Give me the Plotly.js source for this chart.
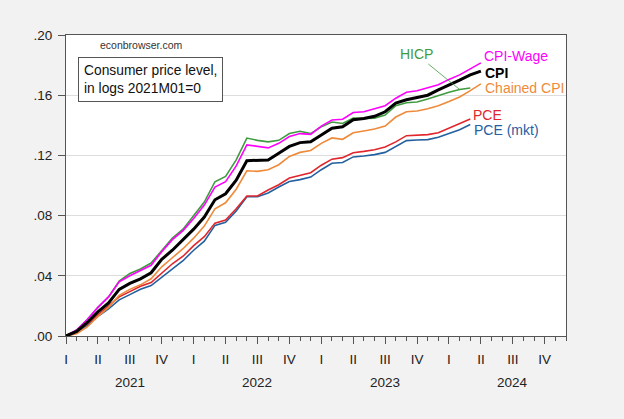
<!DOCTYPE html>
<html>
<head>
<meta charset="utf-8">
<script src="https://cdn.plot.ly/plotly-3.0.1.min.js"></script>
<style>
  html, body { margin: 0; padding: 0; background: #f2f2f2; }
  #chart { width: 624px; height: 419px; }
</style>
</head>
<body>
<div id="chart"></div>
<script>
// Monthly observations, 2021M01 .. 2024M04
const months = [
  "2021M01","2021M02","2021M03","2021M04","2021M05","2021M06","2021M07","2021M08","2021M09","2021M10","2021M11","2021M12",
  "2022M01","2022M02","2022M03","2022M04","2022M05","2022M06","2022M07","2022M08","2022M09","2022M10","2022M11","2022M12",
  "2023M01","2023M02","2023M03","2023M04","2023M05","2023M06","2023M07","2023M08","2023M09","2023M10","2023M11","2023M12",
  "2024M01","2024M02","2024M03","2024M04"
];

// Log price levels relative to 2021M01
const cpi = [0, 0.003, 0.009, 0.016, 0.022, 0.031, 0.035, 0.038, 0.042, 0.051, 0.057, 0.064,
  0.071, 0.079, 0.0905, 0.0945, 0.1035, 0.1165, 0.1165, 0.117, 0.1215, 0.126, 0.1285, 0.129,
  0.1335, 0.138, 0.139, 0.1437, 0.1445, 0.146, 0.149, 0.1548, 0.157, 0.1585, 0.160, 0.1635,
  0.1665, 0.170, 0.1735, 0.176];

const cpiWage = [0, 0.004, 0.011, 0.019, 0.026, 0.036, 0.040, 0.0435, 0.047, 0.056, 0.064, 0.070,
  0.078, 0.087, 0.099, 0.1025, 0.113, 0.127, 0.1262, 0.125, 0.128, 0.1325, 0.1345, 0.134,
  0.1395, 0.1435, 0.144, 0.1485, 0.149, 0.151, 0.153, 0.158, 0.162, 0.163, 0.165, 0.167,
  0.1705, 0.1735, 0.1775, 0.1815];

const hicp = [0, 0.004, 0.011, 0.019, 0.026, 0.0365, 0.0415, 0.0445, 0.0485, 0.057, 0.065, 0.071,
  0.080, 0.089, 0.1025, 0.106, 0.117, 0.1315, 0.130, 0.129, 0.130, 0.1345, 0.136, 0.1345,
  0.139, 0.1422, 0.1412, 0.1448, 0.1445, 0.1448, 0.1468, 0.153, 0.155, 0.1555, 0.1575, 0.160,
  0.162, 0.1638, 0.1648];

const chainedCpi = [0, 0.0015, 0.006, 0.013, 0.019, 0.027, 0.031, 0.034, 0.038, 0.046, 0.052, 0.058,
  0.065, 0.073, 0.0845, 0.0885, 0.0975, 0.1098, 0.1094, 0.1105, 0.1138, 0.1193, 0.122, 0.1233,
  0.128, 0.1316, 0.1307, 0.135, 0.1362, 0.1375, 0.1395, 0.1455, 0.149, 0.1495, 0.151, 0.153,
  0.1558, 0.1588, 0.163, 0.1675];

const pce = [0, 0.003, 0.008, 0.014, 0.020, 0.026, 0.0295, 0.033, 0.0355, 0.042, 0.048, 0.053,
  0.060, 0.066, 0.075, 0.077, 0.0845, 0.093, 0.093, 0.097, 0.1005, 0.105, 0.1065, 0.1085,
  0.1135, 0.1175, 0.1185, 0.1218, 0.1227, 0.1238, 0.1256, 0.129, 0.1331, 0.1335, 0.1338, 0.135,
  0.138, 0.1408, 0.1442];

const pceMkt = [0, 0.0025, 0.007, 0.013, 0.018, 0.024, 0.0275, 0.031, 0.0335, 0.039, 0.045, 0.050,
  0.057, 0.063, 0.0735, 0.0755, 0.083, 0.0925, 0.0925, 0.095, 0.099, 0.1027, 0.1039, 0.1056,
  0.1105, 0.1148, 0.1153, 0.119, 0.1196, 0.1205, 0.122, 0.126, 0.1298, 0.1302, 0.1305, 0.132,
  0.1345, 0.137, 0.1405];

// Axis labels
const years = ["2021", "2022", "2023", "2024"];
const quarterLabels = ["I", "II", "III", "IV"];
const yTickVals = [0, 0.04, 0.08, 0.12, 0.16, 0.20];
const yTickText = [".00", ".04", ".08", ".12", ".16", ".20"];

const FONT = "Liberation Sans, Arial, Helvetica, sans-serif";
const colors = {
  cpi: "#000000",
  cpiWage: "#ff00ff",
  hicp: "#3f9b3f",
  chained: "#ee8a3a",
  pce: "#e0262c",
  pceMkt: "#24609f"
};

const idx = arr => arr.map((_, i) => i);

function line(y, color, width) {
  return { x: idx(y), y: y, type: "scatter", mode: "lines",
           line: { color: color, width: width }, hoverinfo: "skip" };
}

const traces = [
  line(pceMkt, colors.pceMkt, 1.6),
  line(pce, colors.pce, 1.6),
  line(chainedCpi, colors.chained, 1.6),
  line(hicp, colors.hicp, 1.6),
  line(cpiWage, colors.cpiWage, 1.6),
  line(cpi, colors.cpi, 3)
];

// Quarter ticks and year captions along the time axis
const qTickVals = [], qTickText = [];
years.forEach((yr, yi) => {
  quarterLabels.forEach((q, qi) => {
    qTickVals.push(yi * 12 + qi * 3);
    qTickText.push(q);
  });
});

const annotations = [];
years.forEach((yr, yi) => {
  annotations.push({
    text: yr, xref: "x", yref: "paper", x: yi * 12 + 6, y: -0.153,
    xanchor: "center", yanchor: "middle", showarrow: false,
    font: { family: FONT, size: 13.5, color: "#222" }
  });
});

annotations.push({
  text: "econbrowser.com", xref: "paper", yref: "paper", x: 0.1514, y: 0.967,
  xanchor: "center", yanchor: "middle", showarrow: false,
  font: { family: FONT, size: 10.5, color: "#333" }
});

annotations.push({
  text: "Consumer price level,<br>in logs 2021M01=0", xref: "paper", yref: "paper",
  x: 0.024, y: 0.926, xanchor: "left", yanchor: "top", align: "left", showarrow: false,
  bgcolor: "#ffffff", bordercolor: "#555555", borderwidth: 1, borderpad: 5,
  font: { family: FONT, size: 13.8, color: "#111" }
});

// Series labels
const labelFont = (c, bold) => ({ family: FONT, size: 14, color: c, weight: bold ? "bold" : "normal" });
annotations.push({
  text: "HICP", xref: "x", yref: "y", x: 37, y: hicp[37],
  ax: -43, ay: -35, showarrow: true, arrowhead: 0, arrowwidth: 0.8,
  arrowcolor: colors.hicp, standoff: 0, font: labelFont(colors.hicp)
});
[
  ["CPI-Wage", colors.cpiWage, 0.831, 0.930, false],
  ["CPI", colors.cpi, 0.834, 0.875, true],
  ["Chained CPI", colors.chained, 0.834, 0.823, false],
  ["PCE", colors.pce, 0.809, 0.734, false],
  ["PCE (mkt)", colors.pceMkt, 0.811, 0.684, false]
].forEach(([t, c, x, y, b]) => {
  annotations.push({
    text: t, xref: "paper", yref: "paper", x: x, y: y,
    xanchor: "left", yanchor: "middle", showarrow: false, font: labelFont(c, b)
  });
});

const layout = {
  width: 624, height: 419,
  paper_bgcolor: "#f2f2f2", plot_bgcolor: "#ffffff",
  margin: { l: 66, r: 58, t: 35, b: 83 },
  showlegend: false,
  font: { family: FONT, size: 13.5, color: "#222" },
  xaxis: {
    range: [0, 47], tickmode: "array", tickvals: qTickVals, ticktext: qTickText,
    ticks: "outside", ticklen: 7, tickcolor: "#555", tickwidth: 1,
    showgrid: false, zeroline: false, showline: true, mirror: true,
    linecolor: "#555", linewidth: 1, ticklabelstandoff: 4,
    tickfont: { family: FONT, size: 13.5, color: "#222" },
    minor: { dtick: 1, tick0: 0, ticks: "outside", ticklen: 4, tickcolor: "#555", showgrid: false }
  },
  yaxis: {
    range: [0, 0.2], tickmode: "array", tickvals: yTickVals, ticktext: yTickText,
    ticks: "outside", ticklen: 7, tickcolor: "#555", tickwidth: 1,
    showgrid: true, gridcolor: "#dddddd", gridwidth: 1, ticklabelstandoff: 3,
    zeroline: false, showline: true, mirror: true, linecolor: "#555", linewidth: 1,
    tickfont: { family: FONT, size: 13.5, color: "#222" }
  },
  annotations: annotations
};

Plotly.newPlot("chart", traces, layout, { staticPlot: true, displayModeBar: false });
</script>
</body>
</html>
